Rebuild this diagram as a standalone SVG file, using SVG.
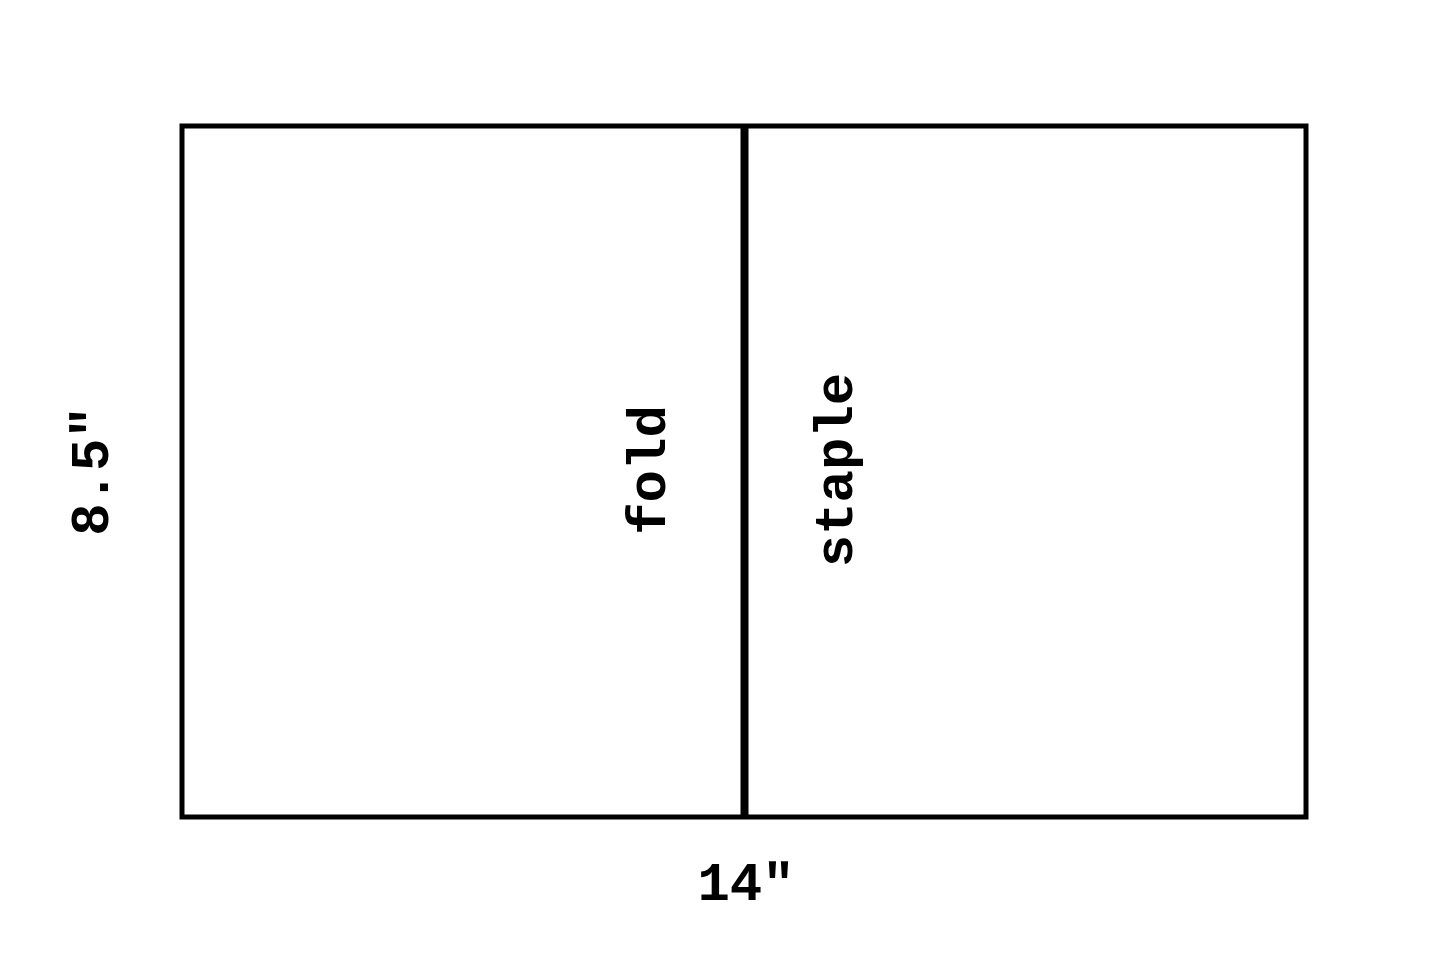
<svg xmlns="http://www.w3.org/2000/svg" width="1456" height="968" viewBox="0 0 1456 968">
<style>
.lbl{font-family:"Liberation Mono","Courier New",monospace;font-weight:bold;font-size:54px;fill:#000;text-anchor:middle}
.edge{fill:none;stroke:#000;stroke-width:5}
</style>
<rect width="1456" height="968" fill="#fff"/>
<g id="sheet">
<rect class="edge" x="182" y="126" width="1124" height="691"/>
</g>
<g id="connectors">
<line x1="744.5" y1="126" x2="744.5" y2="817" stroke="#000" stroke-width="8"/>
</g>
<g id="labels">
<text class="lbl" transform="translate(108,471) rotate(-90)">8.5"</text>
<text class="lbl" transform="translate(665,470) rotate(-90)">fold</text>
<text class="lbl" transform="translate(852,470) rotate(-90)">staple</text>
<text class="lbl" x="746" y="900">14"</text>
</g>
</svg>
